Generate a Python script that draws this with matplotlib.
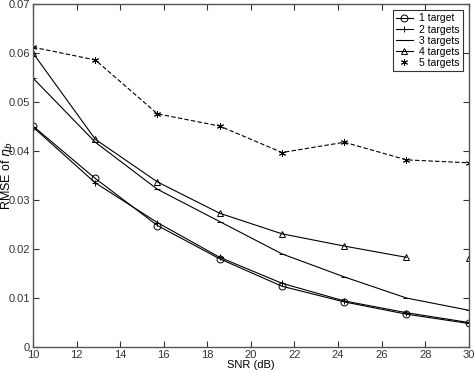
import numpy as np
import matplotlib.pyplot as plt

# SNR points (dB)
snr = [10, 12.86, 15.71, 18.57, 21.43, 24.29, 27.14, 30]

# RMSE of eta_b for each number of targets
rmse_1 = [0.0451, 0.0344, 0.0248, 0.0180, 0.0124, 0.0092, 0.0067, 0.0048]
rmse_2 = [0.0449, 0.0335, 0.0254, 0.0183, 0.0130, 0.0094, 0.0070, 0.0050]
rmse_3 = [0.0549, 0.0418, 0.0322, 0.0256, 0.0190, 0.0143, 0.0100, 0.0075]
rmse_4 = [0.0600, 0.0424, 0.0337, 0.0273, 0.0231, 0.0206, 0.0183, 0.0182]
rmse_5 = [0.0612, 0.0586, 0.0476, 0.0451, 0.0397, 0.0418, 0.0382, 0.0376]

labels = ['1 target', '2 targets', '3 targets', '4 targets', '5 targets']

plt.rcParams['font.family'] = ['Liberation Sans', 'DejaVu Sans']

fig = plt.figure(figsize=(4.74, 3.72), dpi=100)
ax = fig.add_axes([0.0696, 0.0672, 0.9194, 0.9218])

lw = 0.8
ms = 5
ax.plot(snr, rmse_1, color='k', lw=lw, marker='o', ms=ms, mfc='none', mew=0.7,
        label=labels[0])
ax.plot(snr, rmse_2, color='k', lw=lw, marker='+', ms=ms, mew=0.7,
        label=labels[1])
ax.plot(snr, rmse_3, color='k', lw=lw, marker='_', ms=ms, mew=0.7,
        label=labels[2])
# 4 targets: line stops before last point
ax.plot(snr[:7], rmse_4[:7], color='k', lw=lw, marker='^', ms=ms, mfc='none',
        mew=0.7, label=labels[3])
ax.plot(snr[7:], rmse_4[7:], color='k', lw=0, marker='^', ms=ms, mfc='none',
        mew=0.7)
ax.plot(snr, rmse_5, color='k', lw=lw, ls=(0, (4, 2)), marker=(6, 2, 0),
        ms=ms, mew=0.7, label=labels[4])

ax.set_xlim(10, 30)
ax.set_ylim(0, 0.07)
ax.set_xticks(np.arange(10, 31, 2))
ax.set_yticks(np.arange(0, 0.071, 0.01))
ax.set_yticklabels(['0', '0.01', '0.02', '0.03', '0.04', '0.05', '0.06', '0.07'])
ax.tick_params(direction='in', top=True, right=True, labelsize=8, length=4,
               pad=2, colors='#333333')
for s in ax.spines.values():
    s.set_color('#555555')
    s.set_linewidth(1.0)

ax.set_xlabel('SNR (dB)', fontsize=8, labelpad=0)
ax.set_ylabel(r'RMSE of $\eta_b$', fontsize=9)
ax.yaxis.set_label_coords(-0.042, 0.5)

leg = ax.legend(loc='upper right', fontsize=7.5, frameon=True, fancybox=False,
                edgecolor='k', borderpad=0.3, labelspacing=0.1,
                handlelength=1.6, handletextpad=0.6, borderaxespad=0.6)
leg.get_frame().set_linewidth(0.8)
# last legend entry shows only the marker
leg.get_lines()[4].set_linestyle('none')

fig.savefig('out.png', dpi=100)
